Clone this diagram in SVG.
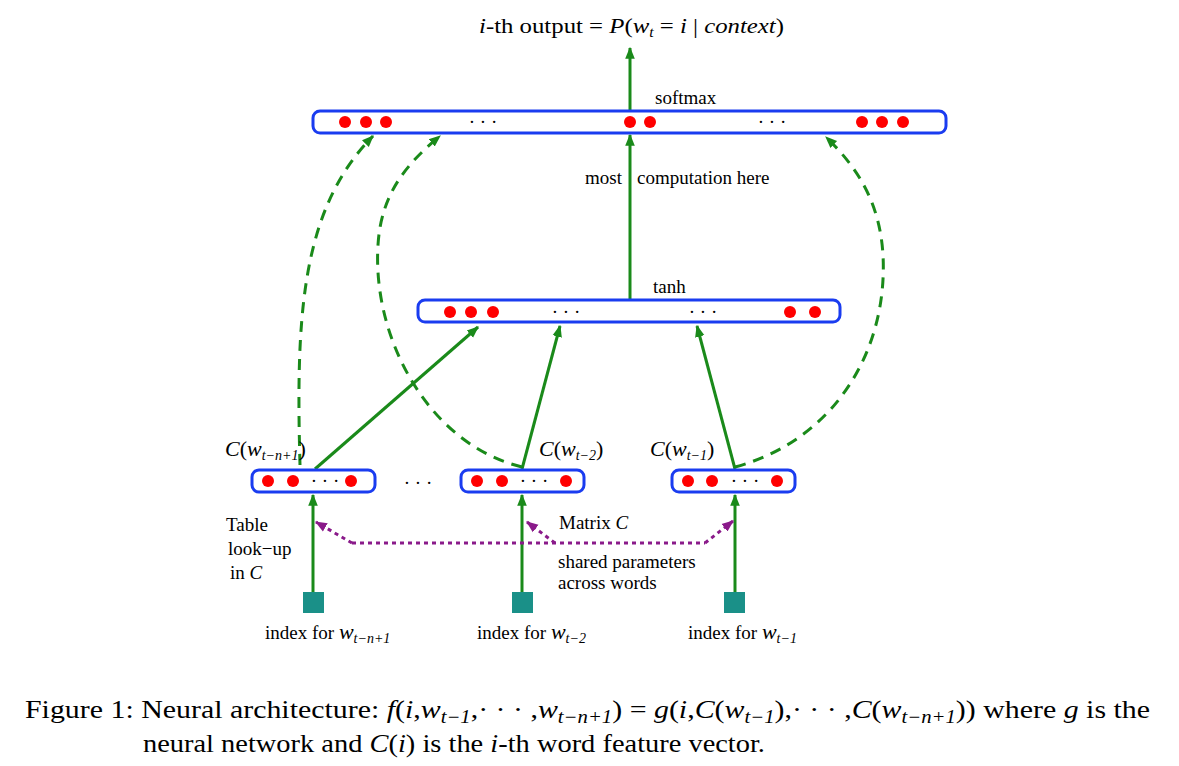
<svg xmlns="http://www.w3.org/2000/svg" width="1179" height="766" viewBox="0 0 1179 766">
<style>
text{font-family:"Liberation Serif","Times New Roman",serif;font-size:19px;fill:#000}
.i{font-style:italic}
.s{font-size:14px;font-style:italic}
.cap{font-size:26px}
.big{font-size:22px}
.bar{fill:#fff;stroke:#1a3cf0;stroke-width:3}
.d{fill:#f00}
.g{stroke:#1a8a1a;stroke-width:3;fill:none}
.gd{stroke:#1a8a1a;stroke-width:3;fill:none;stroke-dasharray:11 8}
.p{stroke:#8a1a8a;stroke-width:3;fill:none;stroke-dasharray:4 4}
.sq{fill:#1a9088}
</style>
<defs>
<marker id="ag" viewBox="0 0 10 10" refX="9" refY="5" markerWidth="4" markerHeight="4" orient="auto"><path d="M0,1 L10,5 L0,9 Z" fill="#1a8a1a"/></marker>
<marker id="ap" viewBox="0 0 10 10" refX="9" refY="5" markerWidth="4" markerHeight="4" orient="auto"><path d="M0,1 L10,5 L0,9 Z" fill="#8a1a8a"/></marker>
</defs>
<g id="connectors">
<path class="g" d="M630,111 L630,48" marker-end="url(#ag)"/>
<path class="g" d="M630,300 L630,135" marker-end="url(#ag)"/>
<path class="g" d="M315,469 L478,327" marker-end="url(#ag)"/>
<path class="g" d="M522,469 L560,326" marker-end="url(#ag)"/>
<path class="g" d="M735,469 L697,326" marker-end="url(#ag)"/>
<path class="gd" d="M300,465 C296,320 300,210 373,136" marker-end="url(#ag)"/>
<path class="gd" d="M522,467 C430,445 372,340 378,245 C381,195 405,165 440,136" marker-end="url(#ag)"/>
<path class="gd" d="M735,467 C835,440 888,350 883,255 C880,205 860,170 826,137" marker-end="url(#ag)"/>
<path class="g" d="M313,593 L313,495" marker-end="url(#ag)"/>
<path class="g" d="M522,593 L522,495" marker-end="url(#ag)"/>
<path class="g" d="M735,593 L735,495" marker-end="url(#ag)"/>
<path class="p" d="M352,543 L316,522" marker-end="url(#ap)"/>
<path class="p" d="M352,543 L705,543"/>
<path class="p" d="M555,543 L527,522" marker-end="url(#ap)"/>
<path class="p" d="M705,543 L733,521" marker-end="url(#ap)"/>
</g>
<g id="softmax">
<rect class="bar" x="313" y="111" width="633" height="22" rx="7"/>
<circle class="d" cx="345" cy="122" r="6"/><circle class="d" cx="366" cy="122" r="6"/><circle class="d" cx="386" cy="122" r="6"/>
<circle class="d" cx="630" cy="122" r="6"/><circle class="d" cx="650" cy="122" r="6"/>
<circle class="d" cx="862" cy="122" r="6"/><circle class="d" cx="882" cy="122" r="6"/><circle class="d" cx="903" cy="122" r="6"/>
<text x="483" y="128" text-anchor="middle">· · ·</text>
<text x="772" y="128" text-anchor="middle">· · ·</text>
<text x="655" y="104">softmax</text>
</g>
<g id="output"><text class="big" x="479" y="33" textLength="305" lengthAdjust="spacingAndGlyphs"><tspan class="i">i</tspan>-th output = <tspan class="i">P</tspan>(<tspan class="i">w</tspan><tspan class="s" dy="4">t</tspan><tspan dy="-4">  =  </tspan><tspan class="i">i</tspan> | <tspan class="i">context</tspan>)</text></g>
<g id="label-comp"><text x="585" y="184">most</text><text x="637" y="184">computation here</text></g>
<g id="tanh">
<rect class="bar" x="418" y="300" width="422" height="22" rx="7"/>
<circle class="d" cx="450" cy="312" r="6"/><circle class="d" cx="471" cy="312" r="6"/><circle class="d" cx="493" cy="312" r="6"/>
<circle class="d" cx="790" cy="312" r="6"/><circle class="d" cx="815" cy="312" r="6"/>
<text x="566" y="318" text-anchor="middle">· · ·</text>
<text x="703" y="318" text-anchor="middle">· · ·</text>
<text x="653" y="293">tanh</text>
</g>
<g id="c1">
<rect class="bar" x="252" y="470" width="123" height="22" rx="7"/>
<circle class="d" cx="268" cy="481" r="6"/><circle class="d" cx="293" cy="481" r="6"/><circle class="d" cx="351" cy="481" r="6"/>
<text x="325" y="487" text-anchor="middle">· · ·</text>
<text class="big" x="225" y="456"><tspan class="i">C</tspan>(<tspan class="i">w</tspan><tspan class="s" dy="4">t−n+1</tspan><tspan dy="-4">)</tspan></text>
</g>
<text x="418" y="489" text-anchor="middle">· · ·</text>
<g id="c2">
<rect class="bar" x="461" y="470" width="123" height="22" rx="7"/>
<circle class="d" cx="477" cy="481" r="6"/><circle class="d" cx="502" cy="481" r="6"/><circle class="d" cx="566" cy="481" r="6"/>
<text x="534" y="487" text-anchor="middle">· · ·</text>
<text class="big" x="539" y="456"><tspan class="i">C</tspan>(<tspan class="i">w</tspan><tspan class="s" dy="4">t−2</tspan><tspan dy="-4">)</tspan></text>
</g>
<g id="c3">
<rect class="bar" x="672" y="470" width="123" height="22" rx="7"/>
<circle class="d" cx="688" cy="481" r="6"/><circle class="d" cx="712" cy="481" r="6"/><circle class="d" cx="777" cy="481" r="6"/>
<text x="745" y="487" text-anchor="middle">· · ·</text>
<text class="big" x="650" y="456"><tspan class="i">C</tspan>(<tspan class="i">w</tspan><tspan class="s" dy="4">t−1</tspan><tspan dy="-4">)</tspan></text>
</g>
<g id="idx1"><rect class="sq" x="303" y="592" width="21" height="21"/><text x="265" y="639">index for <tspan class="i" font-size="22">w</tspan><tspan class="s" dy="4">t−n+1</tspan></text></g>
<g id="idx2"><rect class="sq" x="512" y="592" width="21" height="21"/><text x="477" y="639">index for <tspan class="i" font-size="22">w</tspan><tspan class="s" dy="4">t−2</tspan></text></g>
<g id="idx3"><rect class="sq" x="724" y="592" width="21" height="21"/><text x="688" y="639">index for <tspan class="i" font-size="22">w</tspan><tspan class="s" dy="4">t−1</tspan></text></g>
<g id="labels">
<text x="226" y="531">Table</text>
<text x="228" y="555">look−up</text>
<text x="230" y="579">in <tspan class="i">C</tspan></text>
<text x="559" y="529">Matrix <tspan class="i">C</tspan></text>
<text x="558" y="568">shared parameters</text>
<text x="558" y="589">across words</text>
</g>
<g id="caption">
<text class="cap" x="25" y="718" textLength="1125" lengthAdjust="spacingAndGlyphs">Figure 1:  Neural architecture: <tspan class="i">f</tspan>(<tspan class="i">i</tspan>,<tspan class="i">w</tspan><tspan font-size="18" class="i" dy="5">t−1</tspan><tspan dy="-5">,· · · ,</tspan><tspan class="i">w</tspan><tspan font-size="18" class="i" dy="5">t−n+1</tspan><tspan dy="-5">) = </tspan><tspan class="i">g</tspan>(<tspan class="i">i</tspan>,<tspan class="i">C</tspan>(<tspan class="i">w</tspan><tspan font-size="18" class="i" dy="5">t−1</tspan><tspan dy="-5">),· · · ,</tspan><tspan class="i">C</tspan>(<tspan class="i">w</tspan><tspan font-size="18" class="i" dy="5">t−n+1</tspan><tspan dy="-5">)) where </tspan><tspan class="i">g</tspan> is the</text>
<text class="cap" x="143" y="752" textLength="622" lengthAdjust="spacingAndGlyphs">neural network and <tspan class="i">C</tspan>(<tspan class="i">i</tspan>) is the <tspan class="i">i</tspan>-th word feature vector.</text>
</g>
</svg>
